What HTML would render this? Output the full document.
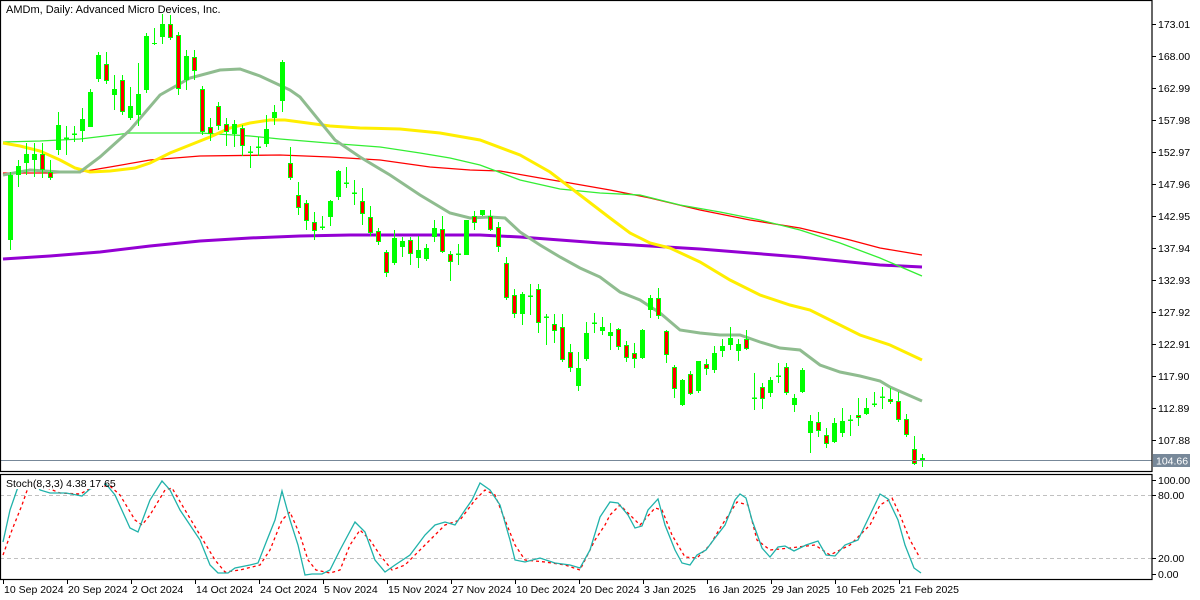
<!DOCTYPE html>
<html><head><meta charset="utf-8"><style>
html,body{margin:0;padding:0;background:#fff;}
svg{display:block;font-family:"Liberation Sans",Arial,sans-serif;}
</style></head><body>
<svg id="c" width="1200" height="600" xmlns="http://www.w3.org/2000/svg">
<rect x="0" y="0" width="1200" height="600" fill="#fff"/>
<polyline fill="none" stroke="#9400d3" stroke-width="3" points="3,259 50,256 100,252 150,246 200,241 250,238 300,236 350,235 420,235 480,235 520,237 560,240 600,243 650,246 700,249 750,253 800,257 850,262 880,265 922,267"/>
<polyline fill="none" stroke="#ff0000" stroke-width="1.3" points="3,173 50,173 80,172 110,167 150,160 200,156 280,155 330,157 380,160 430,167 470,170 500,171 540,178 570,183 610,190 650,198 700,210 750,220 800,228 850,240 880,248 922,255"/>
<polyline fill="none" stroke="#33ee33" stroke-width="1.3" points="3,142 40,141 80,139 130,133 200,133 250,136 280,139 340,144 380,147 420,153 450,158 480,165 520,180 560,189 600,193 640,195 680,205 720,212 760,220 800,230 840,243 880,258 922,276"/>
<polyline fill="none" stroke="#ffee00" stroke-width="3" points="3,143 20,146 40,151 60,160 75,168 90,172 110,171 135,168 150,163 170,153 190,145 210,137 230,128 250,123 270,120 285,120 300,122 330,126 360,128 400,129 440,133 480,140 520,155 550,172 580,195 610,218 630,233 650,243 670,248 700,262 730,280 760,295 790,305 810,310 830,320 860,335 890,345 922,360"/>
<polyline fill="none" stroke="#8fbc8f" stroke-width="3" points="3,175 30,170 60,172 80,172 100,157 130,130 160,95 190,78 220,70 240,69 260,76 275,83 290,90 300,97 335,140 360,157 390,175 420,195 450,213 470,218 490,217 505,218 520,232 540,245 560,257 580,268 600,277 620,292 640,300 660,313 680,330 700,333 720,335 740,335 760,342 780,348 800,350 820,365 840,372 860,376 880,381 890,387 922,401"/>
<g id="candles"></g>
<line x1="0" y1="460.5" x2="1152" y2="460.5" stroke="#778899" stroke-width="1"/>
<rect x="1153" y="454" width="37" height="13" fill="#778899"/>
<text x="1156" y="464.5" font-size="10.5" fill="#fff">104.66</text>
<line x1="0" y1="495.5" x2="1152" y2="495.5" stroke="#c0c0c0" stroke-dasharray="4,3"/>
<line x1="0" y1="558.5" x2="1152" y2="558.5" stroke="#c0c0c0" stroke-dasharray="4,3"/>
<polyline fill="none" stroke="#ff0000" stroke-width="1.3" stroke-dasharray="3,3" points="3,555 12,530 22,505 30,482 40,485 60,493 80,494 95,486 110,486 120,495 135,520 142,525 150,515 165,490 172,488 185,510 200,535 215,560 225,572 240,570 260,565 270,550 282,520 290,512 300,535 308,560 316,570 330,573 340,570 350,545 360,530 370,540 380,555 392,570 405,565 420,550 435,535 445,525 460,520 475,500 485,490 495,495 505,520 515,545 525,560 545,562 565,565 580,570 595,540 605,525 610,515 620,505 630,515 640,525 655,508 662,510 672,535 685,557 697,558 710,545 722,525 737,502 748,505 757,540 770,550 790,548 815,545 830,555 850,545 870,525 880,505 892,498 900,515 910,540 920,558"/>
<polyline fill="none" stroke="#20b2aa" stroke-width="1.3" points="3,542 10,510 18,487 26,477 33,478 40,490 50,493 66,493 82,496 90,489 100,485 106,484 115,495 130,528 138,532 150,500 162,481 170,490 180,510 200,540 210,565 218,573 228,573 235,568 250,565 258,563 267,540 275,520 282,491 290,520 298,545 305,575 312,574 322,574 330,570 340,550 355,522 365,532 375,560 385,572 395,565 410,555 425,535 435,525 445,522 455,525 465,510 472,500 480,483 490,490 500,505 510,540 515,560 525,562 540,558 555,563 570,565 580,568 590,550 600,517 610,502 618,503 628,515 635,528 642,526 648,510 658,499 665,525 675,550 682,563 690,565 697,555 706,550 715,538 725,525 735,500 740,494 746,498 752,520 762,548 770,557 778,547 785,546 794,551 806,545 818,541 826,555 835,556 845,545 858,540 870,515 880,494 888,499 898,520 905,545 914,568 921,573"/>
<rect x="4" y="476" width="100" height="13" fill="#fff"/>
<text x="6" y="487" font-size="10.5" fill="#000">Stoch(8,3,3) 4.38 17.65</text>
<text x="6" y="13" font-size="11" fill="#000">AMDm, Daily:  Advanced Micro Devices, Inc.</text>
<rect x="0.5" y="0.5" width="1151.5" height="471" fill="none" stroke="#000" stroke-width="1.2"/>
<rect x="0.5" y="474.5" width="1151.5" height="105" fill="none" stroke="#000" stroke-width="1.2"/>
<g id="axis" font-size="10.5" fill="#000"></g>
</svg>
<script>
var NS="http://www.w3.org/2000/svg";
function el(p,t,a,txt){var e=document.createElementNS(NS,t);for(var k in a)e.setAttribute(k,a[k]);if(txt!==undefined)e.textContent=txt;p.appendChild(e);return e;}
var C=[
[240,175,172,250],[175,166,160,187],[163,154,143,175],[160,154,143,177],[154,170,143,178],[172,178,160,180],
[150,125,112,155],[138,138,126,155],[134,134,126,142],[131,119,108,142],[127,92,89,127],[79,55,52,82],
[64,81,52,84],[95,89,75,110],[80,112,75,115],[118,106,87,120],[115,94,63,126],[90,36,33,93],[44,43,28,45],
[37,24,14,44],[24,38,15,40],[35,89,32,95],[80,56,50,90],[57,71,50,80],[89,132,86,135],[127,134,118,141],
[106,126,102,130],[124,132,118,146],[134,124,120,147],[128,146,125,156],[152,152,146,168],[147,147,137,156],
[144,129,115,147],[118,112,105,125],[101,62,60,112],[163,178,147,180],[195,208,182,215],[203,221,200,230],
[222,231,212,240],[227,227,216,230],[217,201,200,226],[197,171,170,200],[183,183,167,188],[193,193,180,205],
[201,214,188,225],[217,233,206,236],[231,242,228,245],[252,273,250,277],[263,238,230,265],[247,241,237,257],
[240,254,237,265],[258,250,236,268],[259,248,244,261],[237,228,220,242],[229,252,216,253],[254,262,251,281],
[254,254,244,265],[255,220,220,255],[216,223,211,230],[215,210,210,216],[216,230,210,231],[227,247,222,252],
[263,298,257,300],[295,314,289,318],[314,294,292,325],[296,296,284,315],[289,323,284,333],[317,317,314,345],
[324,331,314,343],[327,360,314,362],[352,368,344,372],[386,368,352,391],[359,333,322,361],[323,323,313,333],
[331,327,317,335],[336,332,323,350],[329,347,328,350],[345,358,341,362],[353,359,343,368],[358,330,329,359],
[310,298,295,318],[298,316,288,319],[331,355,330,363],[367,389,365,398],[405,380,379,406],[374,394,371,395],
[391,361,361,393],[364,369,359,375],[370,353,346,373],[351,346,339,357],[345,338,327,350],[351,344,339,361],
[339,349,330,350],[398,398,373,410],[387,399,383,409],[393,380,377,397],[376,376,363,383],[367,393,363,395],
[405,398,394,412],[392,370,368,393],[433,421,415,453],[422,431,412,437],[435,444,428,448],[442,423,418,443],
[433,421,408,437],[420,420,415,436],[415,418,398,426],[414,408,398,415],[404,404,392,407],[397,397,387,409],
[399,402,388,404],[401,420,392,422],[419,435,414,437],[449,464,436,465],[458,460,454,467]];
var g=document.getElementById("candles");
C.forEach(function(c,i){
 var x=10+8*i,o=c[0],cl=c[1],h=c[2],l=c[3];
 el(g,"line",{x1:x+0.5,y1:h,x2:x+0.5,y2:l,stroke:"#00ff00","stroke-width":1});
 var top=Math.min(o,cl),bot=Math.max(o,cl);
 if(bot-top<1){el(g,"rect",{x:x-2,y:top-0.5,width:5,height:1.5,fill:"#00ff00"});return;}
 el(g,"rect",{x:x-2,y:top,width:5,height:bot-top,fill:"#00ff00"});
 if(cl>o) el(g,"rect",{x:x-1,y:top+1,width:3,height:Math.max(0,bot-top-2),fill:"#ff0000"});
});
var ax=document.getElementById("axis");
var pl=["173.01","168.00","162.99","157.98","152.97","147.96","142.95","137.94","132.93","127.92","122.91","117.90","112.89","107.88"];
pl.forEach(function(t,i){var y=24+32*i;el(ax,"line",{x1:1152,y1:y+0.5,x2:1156,y2:y+0.5,stroke:"#000"});el(ax,"text",{x:1158,y:y+4},t);});
[["100.00",480],["80.00",495],["20.00",558],["0.00",574]].forEach(function(a){el(ax,"line",{x1:1152,y1:a[1]+0.5,x2:1156,y2:a[1]+0.5,stroke:"#000"});el(ax,"text",{x:1158,y:a[1]+4},a[0]);});
var dl=["10 Sep 2024","20 Sep 2024","2 Oct 2024","14 Oct 2024","24 Oct 2024","5 Nov 2024","15 Nov 2024","27 Nov 2024","10 Dec 2024","20 Dec 2024","3 Jan 2025","16 Jan 2025","29 Jan 2025","10 Feb 2025","21 Feb 2025"];
dl.forEach(function(t,i){var x=3+64*i;el(ax,"line",{x1:x+0.5,y1:580,x2:x+0.5,y2:584,stroke:"#000"});el(ax,"text",{x:x+1,y:593},t);});
</script>
</body></html>
